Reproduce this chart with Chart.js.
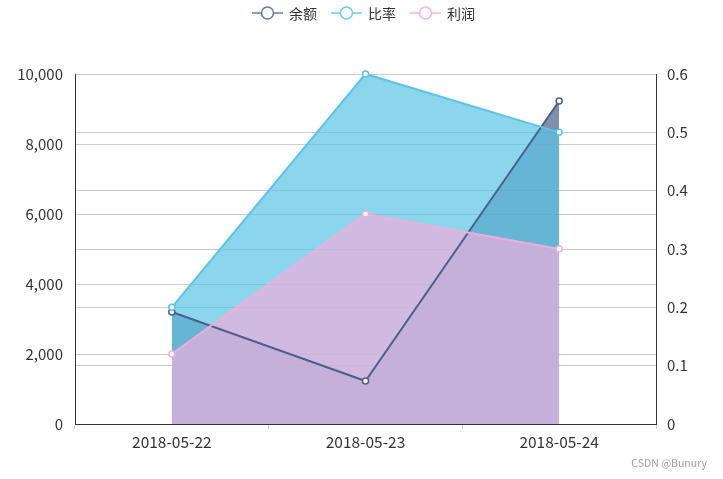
<!DOCTYPE html>
<html>
<head>
<meta charset="utf-8">
<script src="https://cdn.jsdelivr.net/npm/chart.js@4.4.0/dist/chart.umd.min.js"></script>
<style>
  html, body { margin: 0; padding: 0; background: #fff; }
  #wrap { width: 723px; height: 479px; position: relative; }
</style>
</head>
<body>
<div id="wrap"><canvas id="areaChart"></canvas></div>
<script>
const dates = ['2018-05-22', '2018-05-23', '2018-05-24'];
const seriesNames = ['余额', '比率', '利润'];
const balance = [3200, 1230, 9230];
const ratio = [0.2, 0.6, 0.5];
const profit = [2000, 6000, 5000];

const colors = ['#4a6089', '#5bc4e5', '#eeaedb'];
const legendColors = ['#6b7b9c', '#6ccbe8', '#f0b6de'];
const fills = ['rgba(74,96,137,0.7)', 'rgba(91,196,229,0.7)', 'rgba(238,174,219,0.7)'];
const font = '"Noto Sans CJK SC", "Noto Sans", sans-serif';

// legend + watermark drawn on the canvas
const topLegend = {
    id: 'topLegend',
    afterDraw(chart) {
        const ctx = chart.ctx;
        ctx.save();
        ctx.font = '14px ' + font;
        ctx.textBaseline = 'middle';
        const iconW = 31, gap = 6, itemGap = 14, y = 13;
        const widths = seriesNames.map(n => iconW + gap + ctx.measureText(n).width);
        const total = widths.reduce((a, b) => a + b, 0) + itemGap * (widths.length - 1);
        let x = (chart.width - total) / 2 + 2;
        seriesNames.forEach((name, i) => {
            ctx.strokeStyle = legendColors[i];
            ctx.lineWidth = 1.5;
            ctx.beginPath();
            ctx.moveTo(x, y);
            ctx.lineTo(x + iconW, y);
            ctx.stroke();
            ctx.beginPath();
            ctx.arc(x + iconW / 2, y, 6, 0, Math.PI * 2);
            ctx.fillStyle = '#fff';
            ctx.fill();
            ctx.stroke();
            ctx.fillStyle = '#333';
            ctx.textAlign = 'left';
            ctx.fillText(name, x + iconW + gap, y + 1);
            x += widths[i] + itemGap;
        });
        ctx.font = '10.5px ' + font;
        ctx.fillStyle = '#a0a0a0';
        ctx.textAlign = 'right';
        ctx.fillText('CSDN @Bunury', 707, 463);
        ctx.restore();
    }
};

function makeSet(i, data, axis, order) {
    return {
        label: seriesNames[i],
        data: data,
        yAxisID: axis,
        order: order,
        clip: false,
        borderColor: colors[i],
        backgroundColor: fills[i],
        borderWidth: 2,
        fill: 'origin',
        tension: 0,
        pointRadius: 3,
        pointBorderWidth: 1.5,
        pointBackgroundColor: '#fff',
        pointBorderColor: colors[i]
    };
}

const ctx = document.getElementById('areaChart').getContext('2d');
new Chart(ctx, {
    type: 'line',
    data: {
        labels: dates,
        datasets: [
            makeSet(0, balance, 'y', 3),
            makeSet(1, ratio, 'y1', 2),
            makeSet(2, profit, 'y', 1)
        ]
    },
    options: {
        responsive: true,
        maintainAspectRatio: false,
        animation: false,
        layout: { padding: { top: 74, left: 0, right: 0, bottom: 0 } },
        plugins: {
            legend: { display: false },
            tooltip: { enabled: false },
            filler: { drawTime: 'beforeDatasetsDraw' }
        },
        scales: {
            x: {
                offset: true,
                grid: { offset: true, drawOnChartArea: false, tickLength: 5, color: '#ccc' },
                border: { color: '#333', width: 1 },
                ticks: { color: '#333', padding: 4, font: { size: 15.5, family: font } },
                afterFit(scale) { scale.height = 55; }
            },
            y: {
                position: 'left',
                min: 0,
                max: 10000,
                ticks: { stepSize: 2000, color: '#333', padding: 12, font: { size: 15, family: font } },
                grid: { color: '#ccc', drawTicks: false },
                border: { color: '#333', width: 1 },
                afterFit(scale) { scale.width = 75; }
            },
            y1: {
                position: 'right',
                min: 0,
                max: 0.6,
                ticks: { stepSize: 0.1, color: '#333', padding: 11, font: { size: 15, family: font } },
                grid: { color: '#ccc', drawTicks: false },
                border: { color: '#333', width: 1 },
                afterFit(scale) { scale.width = 67; }
            }
        }
    },
    plugins: [topLegend]
});
</script>
</body>
</html>
